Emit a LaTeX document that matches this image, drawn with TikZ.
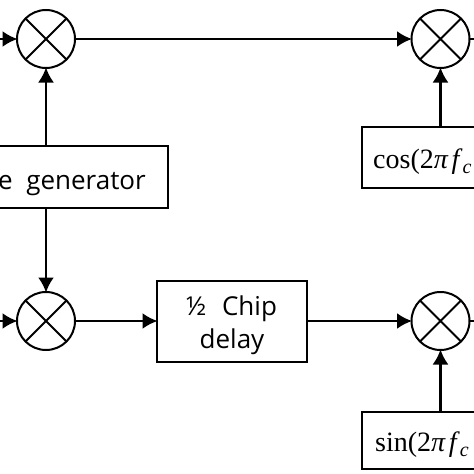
\documentclass[tikz,border=0pt]{standalone}
\usepackage{fontspec}
\setmainfont{Open Sans}
\newfontfamily\mathserif{Liberation Serif}
\usetikzlibrary{arrows.meta}
\tikzset{
  mixer/.style={circle,draw,line width=2pt,minimum size=58pt,inner sep=0pt,outer sep=0pt},
  block/.style={draw,line width=2.3pt,anchor=north west,inner sep=0pt,outer sep=0pt,align=center},
  label text/.style={anchor=base,inner sep=0pt,font=\fontsize{26}{31}\selectfont},
  wire/.style={line width=2.3pt},
  sig/.style={wire,-{Latex[length=15pt,width=16pt]},shorten >=-0.5pt}
}
\newcommand{\mixcross}[1]{\draw[line width=2pt] (#1.45) -- (#1.225) (#1.135) -- (#1.315);}
\begin{document}
\begin{tikzpicture}[x=1pt,y=-1pt]
\useasboundingbox (0,0) rectangle (474,474);
\clip (0,0) rectangle (474,474);
\node[mixer] (m1) at (46,39) {};
\node[mixer] (m2) at (440.5,39) {};
\node[mixer] (m3) at (46,321) {};
\node[mixer] (m4) at (440.5,321) {};
\mixcross{m1}\mixcross{m2}\mixcross{m3}\mixcross{m4}
\node[block,minimum width=208pt,minimum height=62pt] (gen) at (-40,146) {};
\node[label text,anchor=base east] (gentext) at (146,189) {e\hspace{7pt} generator};
\node[block,minimum width=150pt,minimum height=81pt] (delay) at (157,281) {};
\node[label text] (d1) at (231.5,315) {½\hspace{9pt} Chip};
\node[label text] (d2) at (232,348) {delay};
\node[block,minimum width=160pt,minimum height=61pt] (cosb) at (362,127) {};
\node[label text,anchor=base west,font=\fontsize{28}{33}\selectfont] (costext) at (373,168) {\mathserif cos(2\textit{π}\hspace{3pt}\textit{f}\raisebox{-5pt}{\fontsize{20}{24}\selectfont\textit{c}}};
\node[block,minimum width=160pt,minimum height=57pt] (sinb) at (362,412) {};
\node[label text,anchor=base west,font=\fontsize{28}{33}\selectfont] (sintext) at (375,451) {\mathserif sin(2\textit{π}\hspace{3pt}\textit{f}\raisebox{-5pt}{\fontsize{20}{24}\selectfont\textit{c}}};
\coordinate (in1) at (-10,39);
\coordinate (in3) at (-10,321);
\coordinate (out2) at (484,39);
\coordinate (out4) at (484,321);
\draw[sig] (in1) -- (m1);
\draw[sig] (in3) -- (m3);
\draw[sig] (m1) -- (m2);
\draw[wire] (m2) -- (out2);
\draw[wire] (m4) -- (out4);
\draw[sig] (m3) -- (delay.west |- m3);
\draw[sig] (delay.east |- m4) -- (m4);
\draw[sig] (m1 |- gen.north) -- (m1);
\draw[sig] (m3 |- gen.south) -- (m3);
\draw[sig] (m2 |- cosb.north) -- (m2);
\draw[sig] (m4 |- sinb.north) -- (m4);
\end{tikzpicture}
\end{document}
